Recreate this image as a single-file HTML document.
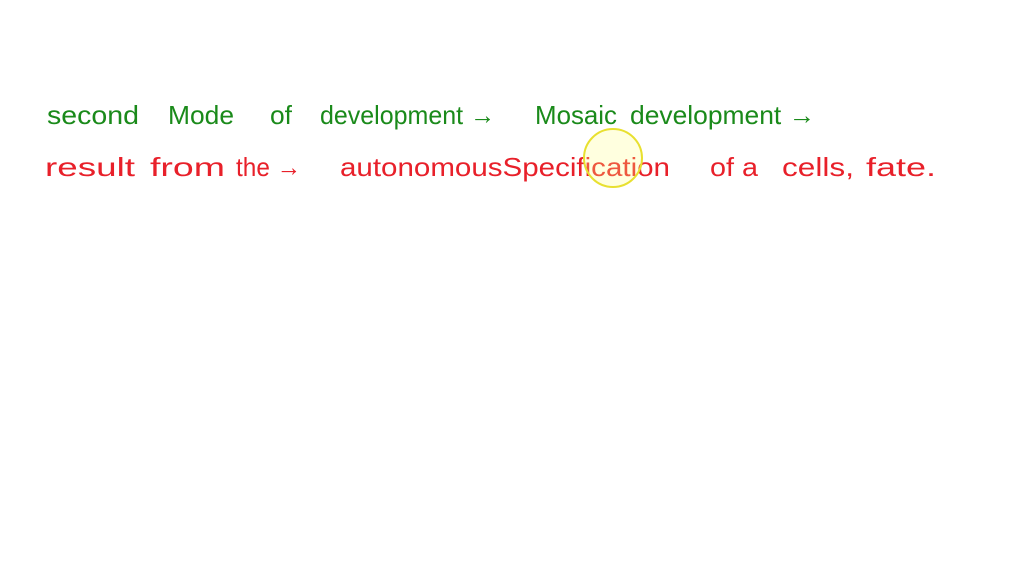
<!DOCTYPE html>
<html><head><style>
html,body{margin:0;padding:0;background:#fff;width:1024px;height:576px;overflow:hidden}
</style></head><body>
<svg width="1024" height="576" xmlns="http://www.w3.org/2000/svg">
<rect width="1024" height="576" fill="#fff"/>
<g font-family="Liberation Sans, sans-serif" font-size="26" fill="#1a8a1a">
<text x="47" y="124" textLength="92" lengthAdjust="spacingAndGlyphs">second</text>
<text x="168" y="124" textLength="66" lengthAdjust="spacingAndGlyphs">Mode</text>
<text x="270" y="124" textLength="22" lengthAdjust="spacingAndGlyphs">of</text>
<text x="320" y="124" textLength="175" lengthAdjust="spacingAndGlyphs">development →</text>
<text x="535" y="124" textLength="82" lengthAdjust="spacingAndGlyphs">Mosaic</text>
<text x="630" y="124" textLength="185" lengthAdjust="spacingAndGlyphs">development →</text>
</g>
<g font-family="Liberation Sans, sans-serif" font-size="26" fill="#e8202a">
<text x="45" y="176" textLength="90" lengthAdjust="spacingAndGlyphs">result</text>
<text x="150" y="176" textLength="75" lengthAdjust="spacingAndGlyphs">from</text>
<text x="236" y="176" textLength="65" lengthAdjust="spacingAndGlyphs">the →</text>
<text x="340" y="176" textLength="330" lengthAdjust="spacingAndGlyphs">autonomousSpecification</text>
<text x="710" y="176" textLength="48" lengthAdjust="spacingAndGlyphs">of a</text>
<text x="782" y="176" textLength="72" lengthAdjust="spacingAndGlyphs">cells,</text>
<text x="866" y="176" textLength="70" lengthAdjust="spacingAndGlyphs">fate.</text>
</g>
<circle cx="613" cy="158" r="29" fill="#ffff80" fill-opacity="0.25" stroke="#e8e030" stroke-width="2"/>
</svg>
</body></html>
